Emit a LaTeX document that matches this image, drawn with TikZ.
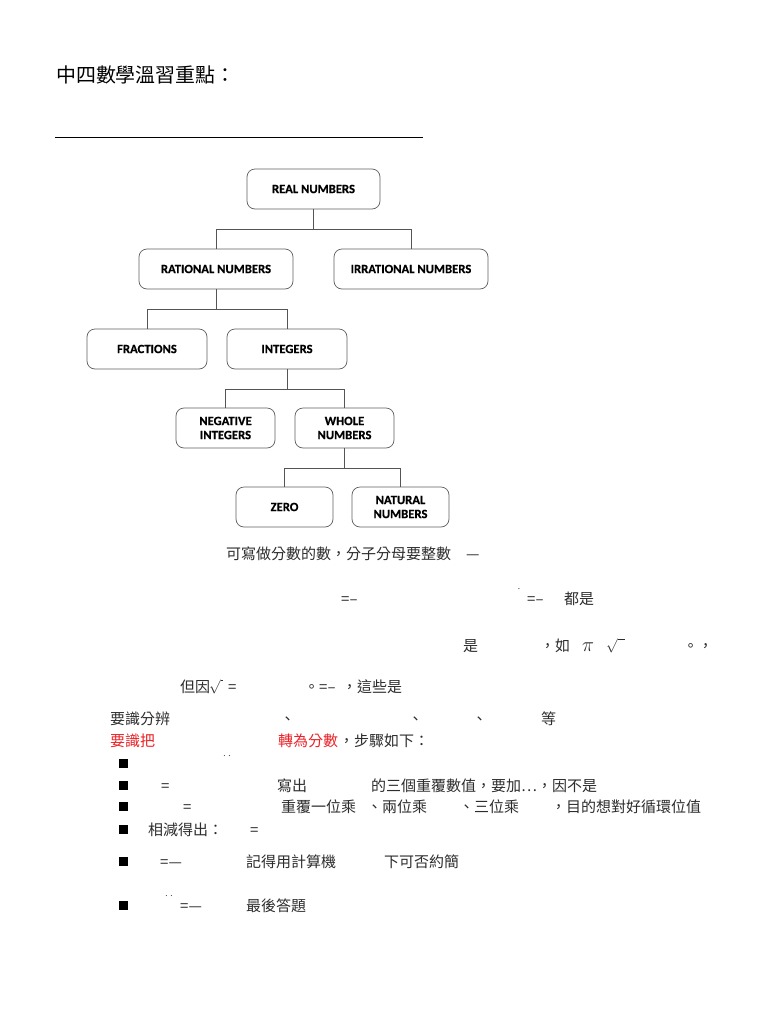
\documentclass[tikz,border=0pt]{standalone}
\usepackage{fontspec}
\setmainfont{Noto Sans CJK TC}
\newfontfamily\boxfont{Carlito Bold}[FakeBold=0.6]
\usepackage{xcolor}
\usetikzlibrary{positioning}
\definecolor{boxgray}{RGB}{95,95,95}
\definecolor{linkgray}{RGB}{85,85,85}
\definecolor{inkgray}{RGB}{45,45,45}
\definecolor{markred}{RGB}{235,35,40}

\begin{document}
\begin{tikzpicture}[
  x=0.3mm, y=-0.3mm,
  numbox/.style={
    rectangle, rounded corners=2.4mm, draw=boxgray, fill=white, line width=0.6pt,
    minimum height=12mm, inner sep=1pt, align=center,
    font=\boxfont\fontsize{10.8}{12}\selectfont
  },
  link/.style={draw=linkgray, line width=0.6pt},
  txt/.style={anchor=base west, inner sep=0pt, text=inkgray, font=\fontsize{12.8}{15}\selectfont},
  redtxt/.style={txt, text=markred},
  dots/.style={anchor=center, inner sep=0pt, text=inkgray, font=\fontsize{7}{8}\selectfont},
  sqmark/.style={rectangle, fill=black, minimum size=2.7mm, inner sep=0pt}
]
  \path[use as bounding box, fill=white] (0,0) rectangle (768,1024);

  \node[anchor=base west, inner sep=0pt, font=\fontsize{17}{20}\selectfont] (title) at (56,82.5) {中四數學溫習重點：};
  \draw[line width=0.8pt] (55,137) -- (423,137);

  \node[numbox, minimum width=39.9mm] (real) at (313.5,189) {REAL NUMBERS};
  \node[numbox, minimum width=46.2mm] (rational) at (216,269) {RATIONAL NUMBERS};
  \node[numbox, minimum width=46.2mm] (irrational) at (411,269) {IRRATIONAL NUMBERS};
  \node[numbox, minimum width=36mm] (fractions) at (147,349) {FRACTIONS};
  \node[numbox, minimum width=36mm] (integers) at (287,349) {INTEGERS};
  \node[numbox, minimum width=29.7mm] (negative) at (225.5,428) {NEGATIVE\\INTEGERS};
  \node[numbox, minimum width=29.7mm] (whole) at (344.5,428) {WHOLE\\NUMBERS};
  \node[numbox, minimum width=29.1mm] (zero) at (284.5,507) {ZERO};
  \node[numbox, minimum width=29.1mm] (natural) at (400.5,507) {NATURAL\\NUMBERS};

  \draw[link] (real.south) -- ++(0,20) -| (rational.north);
  \draw[link] (real.south) -- ++(0,20) -| (irrational.north);
  \draw[link] (rational.south) -- ++(0,20) -| (fractions.north);
  \draw[link] (rational.south) -- ++(0,20) -| (integers.north);
  \draw[link] (integers.south) -- ++(0,19.5) -| (negative.north);
  \draw[link] (integers.south) -- ++(0,19.5) -| (whole.north);
  \draw[link] (whole.south) -- ++(0,19.5) -| (zero.north);
  \draw[link] (whole.south) -- ++(0,19.5) -| (natural.north);

  \node[txt] (l1a) at (226,559) {可寫做分數的數，分子分母要整數};
  \node[txt] (l1b) at (466,559) {—};

  \node[txt] (l2a) at (341,604) {=–};
  \node[dots] (l2b) at (519,589) {.};
  \node[txt] (l2c) at (527,604) {=–};
  \node[txt] (l2d) at (564,604) {都是};

  \node[txt] (l3a) at (463,651) {是};
  \node[txt] (l3b) at (540,651) {，如};
  \node[txt, font=\fontsize{16}{18}\selectfont] (l3c) at (582,651) {$\pi$};
  \node[txt] (l3d) at (606,651) {$\sqrt{\phantom{0}}$};
  \node[txt] (l3e) at (683,651) {。，};

  \node[txt] (l4a) at (180,692) {但因};
  \node[txt] (l4b) at (209,692) {$\sqrt{\vphantom{0}\,}$};
  \node[txt] (l4c) at (228,692) {=};
  \node[txt] (l4d) at (304,692) {。=–};
  \node[txt] (l4e) at (342,692) {，這些是};

  \node[txt] (l5a) at (110,724) {要識分辨};
  \node[txt] (l5b) at (280,724) {、};
  \node[txt] (l5c) at (408,724) {、};
  \node[txt] (l5d) at (472,724) {、};
  \node[txt] (l5e) at (541,724) {等};

  \node[redtxt] (l6a) at (110,746) {要識把};
  \node[redtxt] (l6b) at (278,746) {轉為分數};
  \node[txt] (l6c) at (339,746) {，步驟如下：};

  \node[sqmark] (b1) at (123,763) {};
  \node[dots] (l7a) at (227,756) {.\,\,.};

  \node[sqmark] (b2) at (123,785) {};
  \node[txt] (l8a) at (161,791) {=};
  \node[txt] (l8b) at (277,791) {寫出};
  \node[txt] (l8c) at (371,791) {的三個重覆數值，要加…，因不是};

  \node[sqmark] (b3) at (123,806) {};
  \node[txt] (l9a) at (183,812) {=};
  \node[txt] (l9b) at (281,812) {重覆一位乘};
  \node[txt] (l9c) at (367,812) {、兩位乘};
  \node[txt] (l9d) at (459,812) {、三位乘};
  \node[txt] (l9e) at (551,812) {，目的想對好循環位值};

  \node[sqmark] (b4) at (123,829) {};
  \node[txt] (l10a) at (148,835) {相減得出：};
  \node[txt] (l10b) at (250,835) {=};

  \node[sqmark] (b5) at (123,861) {};
  \node[txt] (l11a) at (160,867) {=—};
  \node[txt] (l11b) at (246,867) {記得用計算機};
  \node[txt] (l11c) at (384,867) {下可否約簡};

  \node[sqmark] (b6) at (123,905) {};
  \node[dots] (l12a) at (169,896) {.\,\,.};
  \node[txt] (l12b) at (180,911) {=—};
  \node[txt] (l12c) at (246,911) {最後答題};
\end{tikzpicture}
\end{document}
